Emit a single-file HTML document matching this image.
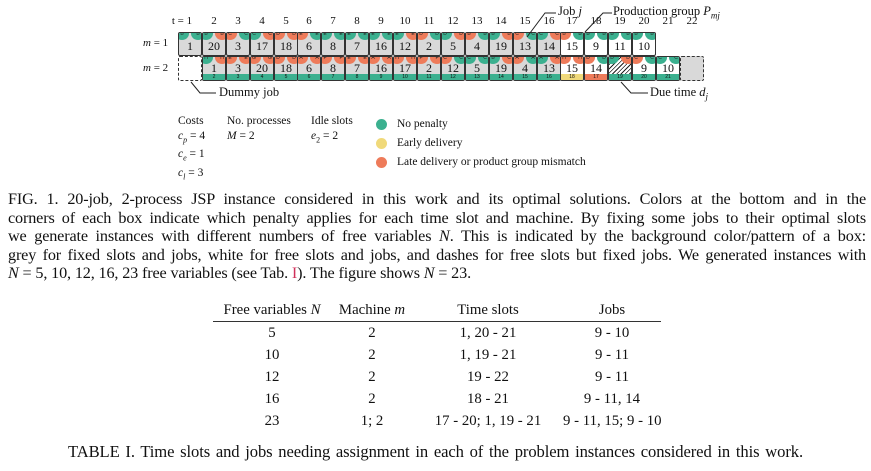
<!DOCTYPE html><html><head><style>
body{margin:0;width:871px;height:471px;background:#fff;position:relative;font-family:"Liberation Serif",serif;color:#111;overflow:hidden}
.a{position:absolute;white-space:nowrap}
.b{position:absolute;width:22px;height:22px;border:1px solid #333;border-radius:2px;background:#d9d9d9;overflow:hidden;font-size:12px;text-align:center;line-height:26px;box-sizing:content-box}
.r2{top:56px;height:23px;line-height:22px}
.w{background:#fff}
.b i{position:absolute;top:-6px;width:14px;height:13px;border-radius:50%;font-style:normal;font-size:5px;line-height:15px;color:#222;font-family:"Liberation Sans",sans-serif}
.b i.l{left:-4px}.b i.r{right:-4px}
.G{background:#3bb08f}.O{background:#ee7b5a}
.b s{position:absolute;left:0;right:0;bottom:0;height:6px;background:#3bb08f;text-decoration:none;font-size:5px;line-height:7px;font-family:"Liberation Sans",sans-serif}
.b s.Y{background:#f0d97a}.b s.R{background:#ee7b5a}
.tl{position:absolute;top:15px;font-size:11px;width:24px;text-align:center}
.cl{position:absolute;left:8px;width:858px;font-size:16.2px;text-align:justify;text-align-last:justify;white-space:nowrap;letter-spacing:-0.15px}
table{position:absolute;left:213px;top:299px;border-collapse:collapse;font-size:14.8px;table-layout:fixed;width:448px}
td,th{font-weight:normal;text-align:center;padding:0;height:22px;white-space:nowrap}
.lg{font-size:11.5px}
</style></head><body>
<div class="tl" style="left:170px">t = 1</div><div class="tl" style="left:202px">2</div><div class="tl" style="left:226px">3</div><div class="tl" style="left:250px">4</div><div class="tl" style="left:274px">5</div><div class="tl" style="left:297px">6</div><div class="tl" style="left:321px">7</div><div class="tl" style="left:345px">8</div><div class="tl" style="left:369px">9</div><div class="tl" style="left:393px">10</div><div class="tl" style="left:417px">11</div><div class="tl" style="left:441px">12</div><div class="tl" style="left:465px">13</div><div class="tl" style="left:489px">14</div><div class="tl" style="left:513px">15</div><div class="tl" style="left:537px">16</div><div class="tl" style="left:560px">17</div><div class="tl" style="left:584px">18</div><div class="tl" style="left:608px">19</div><div class="tl" style="left:632px">20</div><div class="tl" style="left:656px">21</div><div class="tl" style="left:680px">22</div>
<div class="a" style="left:143px;top:37px;font-size:11px"><i>m</i> = 1</div>
<div class="a" style="left:143px;top:62px;font-size:11px"><i>m</i> = 2</div>
<!-- row 1 -->
<div class="b" style="left:178px;top:32px"><i class="l G">B</i><i class="r G">B</i>1</div>
<div class="b" style="left:202px;top:32px"><i class="l G">B</i><i class="r O">B</i>20</div>
<div class="b" style="left:226px;top:32px"><i class="l O">C</i><i class="r G">C</i>3</div>
<div class="b" style="left:250px;top:32px"><i class="l G">C</i><i class="r O">C</i>17</div>
<div class="b" style="left:274px;top:32px"><i class="l O">D</i><i class="r O">D</i>18</div>
<div class="b" style="left:297px;top:32px"><i class="l O">E</i><i class="r G">E</i>6</div>
<div class="b" style="left:321px;top:32px"><i class="l G">E</i><i class="r G">E</i>8</div>
<div class="b" style="left:345px;top:32px"><i class="l G">E</i><i class="r G">E</i>7</div>
<div class="b" style="left:369px;top:32px"><i class="l G">E</i><i class="r G">E</i>16</div>
<div class="b" style="left:393px;top:32px"><i class="l G">E</i><i class="r O">E</i>12</div>
<div class="b" style="left:417px;top:32px"><i class="l O">D</i><i class="r G">D</i>2</div>
<div class="b" style="left:441px;top:32px"><i class="l G">D</i><i class="r O">D</i>5</div>
<div class="b" style="left:465px;top:32px"><i class="l O">B</i><i class="r G">B</i>4</div>
<div class="b" style="left:489px;top:32px"><i class="l G">B</i><i class="r O">B</i>19</div>
<div class="b" style="left:513px;top:32px"><i class="l O">C</i><i class="r G">C</i>13</div>
<div class="b" style="left:537px;top:32px"><i class="l G">C</i><i class="r O">C</i>14</div>
<div class="b w" style="left:560px;top:32px"><i class="l O">B</i><i class="r G">B</i>15</div>
<div class="b w" style="left:584px;top:32px"><i class="l G">B</i><i class="r G">B</i>9</div>
<div class="b w" style="left:608px;top:32px"><i class="l G">B</i><i class="r G">B</i>11</div>
<div class="b w" style="left:632px;top:32px"><i class="l G">B</i><i class="r G">B</i>10</div>
<!-- row 2 -->
<div class="b r2 w" style="left:178px;border:1px dashed #333"></div>
<div class="b r2" style="left:202px"><i class="l G">H</i><i class="r O">H</i>1<s>2</s></div>
<div class="b r2" style="left:226px"><i class="l O">E</i><i class="r O">E</i>3<s>3</s></div>
<div class="b r2" style="left:250px"><i class="l O">G</i><i class="r O">G</i>20<s>4</s></div>
<div class="b r2" style="left:274px"><i class="l O">D</i><i class="r O">D</i>18<s>5</s></div>
<div class="b r2" style="left:297px"><i class="l O">A</i><i class="r O">A</i>6<s>6</s></div>
<div class="b r2" style="left:321px"><i class="l O">F</i><i class="r O">F</i>8<s>7</s></div>
<div class="b r2" style="left:345px"><i class="l O">E</i><i class="r O">E</i>7<s>8</s></div>
<div class="b r2" style="left:369px"><i class="l O">A</i><i class="r O">A</i>16<s>9</s></div>
<div class="b r2" style="left:393px"><i class="l O">H</i><i class="r O">H</i>17<s>10</s></div>
<div class="b r2" style="left:417px"><i class="l O">F</i><i class="r O">F</i>2<s>11</s></div>
<div class="b r2" style="left:441px"><i class="l O">C</i><i class="r G">C</i>12<s>12</s></div>
<div class="b r2" style="left:465px"><i class="l G">C</i><i class="r G">C</i>5<s>13</s></div>
<div class="b r2" style="left:489px"><i class="l G">B</i><i class="r O">C</i>19<s>14</s></div>
<div class="b r2" style="left:513px"><i class="l O">A</i><i class="r G">A</i>4<s>15</s></div>
<div class="b r2" style="left:537px"><i class="l G">A</i><i class="r O">A</i>13<s>16</s></div>
<div class="b r2 w" style="left:560px"><i class="l O">H</i><i class="r O">H</i>15<s class="Y">18</s></div>
<div class="b r2 w" style="left:584px"><i class="l O">D</i><i class="r G">D</i>14<s class="R">17</s></div>
<div class="b r2" style="left:608px;background:repeating-linear-gradient(135deg,#fff 0 2px,#222 2px 3px)"><i class="l G">D</i><i class="r O">D</i><s>19</s></div>
<div class="b r2 w" style="left:632px"><i class="l O">C</i><i class="r G">C</i>9<s>20</s></div>
<div class="b r2 w" style="left:656px"><i class="l G">C</i><i class="r G">C</i>10<s>21</s></div>
<div class="b r2" style="left:680px;border:1px dashed #333;background:#d9d9d9"></div>
<svg class="a" style="left:0;top:0" width="871" height="110">
<g stroke="#222" fill="none" stroke-width="1">
<path d="M556 13 L545 13 L527 37"/><path d="M612 13 L603 13 L585 32"/>
<path d="M216 93 L200 93 L191 82"/><path d="M648 93 L631 93 L621 82"/>
</g></svg>
<div class="a" style="left:558px;top:4px;font-size:12.5px">Job <i>j</i></div>
<div class="a" style="left:613px;top:4px;font-size:12.5px">Production group <i>P<sub style="font-size:9px">mj</sub></i></div>
<div class="a" style="left:219px;top:85px;font-size:12.5px">Dummy job</div>
<div class="a" style="left:650px;top:85px;font-size:12.5px">Due time <i>d<sub style="font-size:9px">j</sub></i></div>
<div class="a lg" style="left:178px;top:114px;line-height:15px">Costs<br><i>c<sub style="font-size:8px">p</sub></i> = 4<br><i>c<sub style="font-size:8px">e</sub></i> = 1<br><i>c<sub style="font-size:8px">l</sub></i> = 3</div>
<div class="a lg" style="left:227px;top:114px;line-height:15px">No. processes<br><i>M</i> = 2</div>
<div class="a lg" style="left:311px;top:114px;line-height:15px">Idle slots<br><i>e</i><sub style="font-size:8px">2</sub> = 2</div>
<div class="a" style="left:376px;top:119px;width:11px;height:11px;border-radius:50%;background:#3bb08f"></div>
<div class="a" style="left:376px;top:138px;width:11px;height:11px;border-radius:50%;background:#f0d97a"></div>
<div class="a" style="left:376px;top:157px;width:11px;height:11px;border-radius:50%;background:#ee7b5a"></div>
<div class="a lg" style="left:397px;top:118px">No penalty</div>
<div class="a lg" style="left:397px;top:137px">Early delivery</div>
<div class="a lg" style="left:397px;top:156px">Late delivery or product group mismatch</div>
<div class="cl" style="top:190px">FIG. 1. 20-job, 2-process JSP instance considered in this work and its optimal solutions. Colors at the bottom and in the</div>
<div class="cl" style="top:208.5px">corners of each box indicate which penalty applies for each time slot and machine. By fixing some jobs to their optimal slots</div>
<div class="cl" style="top:227px">we generate instances with different numbers of free variables <i>N</i>. This is indicated by the background color/pattern of a box:</div>
<div class="cl" style="top:245.5px">grey for fixed slots and jobs, white for free slots and jobs, and dashes for free slots but fixed jobs. We generated instances with</div>
<div class="cl" style="top:264px;text-align-last:left;width:auto"><i>N</i> = 5, 10, 12, 16, 23 free variables (see Tab. <span style="color:#d0305a">I</span>). The figure shows <i>N</i> = 23.</div>
<table>
<colgroup><col style="width:118px"><col style="width:82px"><col style="width:150px"><col style="width:98px"></colgroup>
<tr style="border-bottom:1.3px solid #333"><th>Free variables <i>N</i></th><th>Machine <i>m</i></th><th>Time slots</th><th>Jobs</th></tr>
<tr><td>5</td><td>2</td><td>1, 20 - 21</td><td>9 - 10</td></tr>
<tr><td>10</td><td>2</td><td>1, 19 - 21</td><td>9 - 11</td></tr>
<tr><td>12</td><td>2</td><td>19 - 22</td><td>9 - 11</td></tr>
<tr><td>16</td><td>2</td><td>18 - 21</td><td>9 - 11, 14</td></tr>
<tr><td>23</td><td>1; 2</td><td>17 - 20; 1, 19 - 21</td><td>9 - 11, 15; 9 - 10</td></tr>
</table>
<div class="a" style="left:68px;top:442px;width:735px;font-size:16.6px;text-align:justify;text-align-last:justify;letter-spacing:-0.1px">TABLE I. Time slots and jobs needing assignment in each of the problem instances considered in this work.</div>
</body></html>
